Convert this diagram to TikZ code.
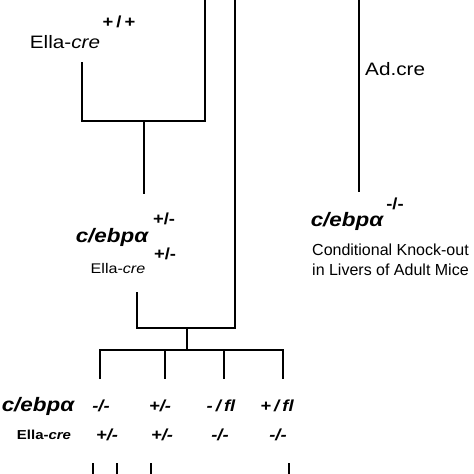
\documentclass[tikz,border=0pt]{standalone}
\usepackage{graphicx}
\usepackage{fontspec}
\setmainfont{Liberation Sans}

\newcommand\wide[1]{\scalebox{1.15}[1]{#1}}

\tikzset{
  wire/.style={line width=1.2pt},
  gene/.style={inner sep=0pt, font=\bfseries\itshape\fontsize{19.5}{22}\selectfont},
  allele/.style={inner sep=0pt, font=\bfseries\fontsize{16}{18}\selectfont},
  cross/.style={inner sep=0pt, font=\bfseries\itshape\fontsize{16}{18}\selectfont},
  plain/.style={inner sep=0pt, font=\fontsize{18}{21}\selectfont},
}

\begin{document}
\begin{tikzpicture}[x=1pt,y=-1pt]
  \useasboundingbox (0,0) rectangle (474,474);

  % parents
  \node[plain] (ella) at (65,42) {\wide{Ella-\textit{cre}}};
  \node[allele] (ellasup) at (119,22) {\wide{+\,/\,+}};
  \node[plain] (adcre) at (365,69) [anchor=west] {\wide{Ad.cre}};

  % F1
  \node[gene] (cebpF) at (112,237) {\wide{c/ebpα}};
  \node[allele] (cebpFsup) at (164,219) {\wide{+/-}};
  \node[inner sep=0pt, font=\fontsize{14}{17}\selectfont] (ellaF) at (118,268) {\wide{Ella-\textit{cre}}};
  \node[allele] (ellaFsup) at (165,254) {\wide{+/-}};

  % conditional knock-out
  \node[gene] (ko) at (347,221) {\wide{c/ebpα}};
  \node[allele] (kosup) at (395,204) {\wide{-/-}};
  \node[anchor=north west, inner sep=0pt, align=left,
        font=\fontsize{16}{20}\selectfont] (kotext) at (312,244)
        {Conditional Knock-out\\in Livers of Adult Mice};

  % F2 genotypes
  \node[gene] (cebpG) at (38,406) {\wide{c/ebpα}};
  \node[plain, font=\bfseries\fontsize{13}{16}\selectfont] (ellaG) at (44,435) {\wide{Ella-\textit{cre}}};
  \node[cross] (g1) at (101,406) {\wide{-/-}};
  \node[cross] (g2) at (160,406) {\wide{+/-}};
  \node[cross] (g3) at (221,406) {\wide{-\,/\,f{}l}};
  \node[cross] (g4) at (277,406) {\wide{+\,/\,f{}l}};
  \node[cross] (e1) at (107,435) {\wide{+/-}};
  \node[cross] (e2) at (162,435) {\wide{+/-}};
  \node[cross] (e3) at (220,435) {\wide{-/-}};
  \node[cross] (e4) at (278,435) {\wide{-/-}};

  % first cross
  \draw[wire] (82,62) |- (205,121) -- (205,0);
  \draw[wire] (144,121) -- (144,194);
  \draw[wire] (359,0) -- (359,192);

  % second cross
  \draw[wire] (235,0) |- (137,328) -- (137,292);
  \draw[wire] (187,328) -- (187,350);
  \draw[wire] (100,379) |- (283,350) -- (283,379);
  \draw[wire] (165,350) -- (165,379);
  \draw[wire] (224,350) -- (224,379);

  \foreach \x in {93,117,151,289}
    \draw[wire] (\x,463) -- (\x,474);
\end{tikzpicture}
\end{document}
